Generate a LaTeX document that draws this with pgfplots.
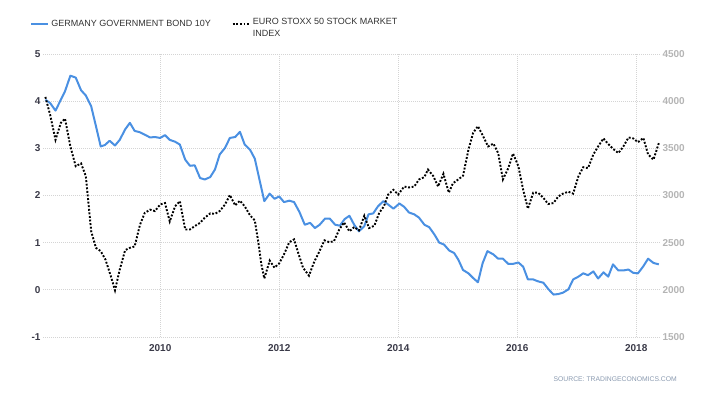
\documentclass[border=0pt]{standalone}
\usepackage{pgfplots}
\pgfplotsset{compat=1.18}
\usepackage{fontspec}
\setmainfont{Liberation Sans}
\definecolor{bondblue}{HTML}{4A90E2}
\definecolor{gridc}{HTML}{D4D4D4}
\definecolor{labc}{HTML}{3A3A48}
\definecolor{rlabc}{HTML}{B4B4B4}
\definecolor{legc}{HTML}{333333}
\definecolor{srcc}{HTML}{8A9AB0}
\begin{document}
\begin{tikzpicture}
\useasboundingbox (0,0) rectangle (720pt,395pt);
\begin{axis}[
  at={(43pt,58pt)}, anchor=south west,
  scale only axis, width=617pt, height=283pt,
  xmin=2008.03, xmax=2018.40, ymin=-1, ymax=5,
  xtick={2010,2012,2014,2016,2018},
  ytick={-1,0,1,2,3,4,5},
  xmajorgrids, ymajorgrids,
  grid style={gridc, line width=0.7pt, dash pattern=on 1pt off 1pt},
  axis line style={draw=none},
  major tick length=0pt,
  /pgf/number format/assume math mode=true,
  /pgf/number format/1000 sep={},
  ticklabel style={font=\bfseries\fontsize{10}{12}\selectfont, text=labc},
  yticklabel style={xshift=1pt},
  xticklabel style={yshift=-4pt},
  legend columns=2,
  legend cell align=left,
  legend style={at={(0,1)}, anchor=south west, xshift=-16pt, yshift=18pt,
    draw=none, fill=none, font=\fontsize{9}{12}\selectfont, text=legc,
    /tikz/every even column/.append style={column sep=19pt}},
]
\addplot[bondblue, line width=2pt, line join=round] coordinates {
(2008.07,4.03)(2008.15,3.96)(2008.24,3.80)(2008.33,4.03)(2008.40,4.21)(2008.49,4.54)(2008.58,4.50)(2008.67,4.23)(2008.75,4.12)(2008.84,3.89)(2008.92,3.47)(2009.00,3.04)(2009.07,3.07)(2009.15,3.16)(2009.24,3.06)(2009.32,3.18)(2009.41,3.40)(2009.49,3.54)(2009.57,3.37)(2009.66,3.34)(2009.74,3.29)(2009.83,3.23)(2009.91,3.24)(2010.00,3.22)(2010.08,3.28)(2010.16,3.18)(2010.25,3.14)(2010.33,3.08)(2010.42,2.76)(2010.50,2.63)(2010.58,2.64)(2010.67,2.37)(2010.75,2.34)(2010.84,2.39)(2010.92,2.55)(2011.00,2.87)(2011.09,3.01)(2011.17,3.22)(2011.26,3.24)(2011.34,3.35)(2011.42,3.08)(2011.51,2.97)(2011.59,2.78)(2011.68,2.27)(2011.75,1.88)(2011.84,2.04)(2011.92,1.93)(2012.00,1.98)(2012.08,1.86)(2012.17,1.89)(2012.25,1.86)(2012.34,1.65)(2012.43,1.38)(2012.52,1.42)(2012.60,1.31)(2012.68,1.38)(2012.77,1.51)(2012.85,1.51)(2012.94,1.38)(2013.02,1.36)(2013.10,1.50)(2013.18,1.57)(2013.26,1.38)(2013.34,1.24)(2013.43,1.35)(2013.50,1.60)(2013.58,1.62)(2013.66,1.77)(2013.75,1.88)(2013.83,1.81)(2013.92,1.72)(2014.02,1.83)(2014.10,1.76)(2014.18,1.64)(2014.27,1.60)(2014.35,1.53)(2014.44,1.38)(2014.52,1.33)(2014.61,1.17)(2014.69,1.00)(2014.77,0.96)(2014.86,0.83)(2014.94,0.78)(2015.01,0.64)(2015.09,0.42)(2015.18,0.35)(2015.26,0.25)(2015.34,0.16)(2015.42,0.57)(2015.50,0.82)(2015.60,0.75)(2015.68,0.66)(2015.76,0.66)(2015.85,0.55)(2015.93,0.55)(2016.02,0.58)(2016.10,0.49)(2016.18,0.22)(2016.27,0.22)(2016.35,0.18)(2016.44,0.15)(2016.52,0.02)(2016.61,-0.10)(2016.69,-0.09)(2016.77,-0.06)(2016.86,0.01)(2016.94,0.22)(2017.03,0.28)(2017.11,0.35)(2017.19,0.31)(2017.28,0.39)(2017.36,0.24)(2017.45,0.37)(2017.53,0.28)(2017.61,0.54)(2017.70,0.41)(2017.78,0.41)(2017.87,0.43)(2017.95,0.36)(2018.03,0.35)(2018.12,0.50)(2018.20,0.66)(2018.29,0.57)(2018.38,0.54)
};
\addlegendentry{GERMANY GOVERNMENT BOND 10Y}
\addlegendimage{black, line width=1.9pt, dash pattern=on 1.9pt off 1.7pt}
\addlegendentry{\begin{tabular}{@{}l@{}}EURO STOXX 50 STOCK MARKET\\INDEX\end{tabular}}
\end{axis}
\begin{axis}[
  at={(43pt,58pt)}, anchor=south west,
  scale only axis, width=617pt, height=283pt,
  xmin=2008.03, xmax=2018.40, ymin=1500, ymax=4500,
  xtick=\empty,
  ytick={1500,2000,2500,3000,3500,4000,4500},
  yticklabel pos=right,
  axis line style={draw=none},
  major tick length=0pt,
  /pgf/number format/assume math mode=true,
  /pgf/number format/1000 sep={},
  yticklabel style={font=\bfseries\fontsize{10}{12}\selectfont, text=rlabc, xshift=-1pt},
]
\addplot[black, line width=1.9pt, dash pattern=on 1.9pt off 1.7pt] coordinates {
(2008.07,4045)(2008.15,3855)(2008.24,3590)(2008.33,3770)(2008.40,3815)(2008.49,3520)(2008.58,3310)(2008.67,3340)(2008.75,3205)(2008.84,2620)(2008.92,2445)(2009.00,2410)(2009.08,2320)(2009.17,2145)(2009.24,1995)(2009.32,2215)(2009.41,2420)(2009.49,2445)(2009.57,2460)(2009.66,2690)(2009.74,2815)(2009.83,2850)(2009.91,2835)(2010.00,2905)(2010.08,2920)(2010.16,2725)(2010.25,2885)(2010.33,2940)(2010.42,2640)(2010.50,2640)(2010.58,2675)(2010.67,2710)(2010.75,2765)(2010.84,2810)(2010.92,2805)(2011.00,2835)(2011.09,2905)(2011.17,3005)(2011.26,2895)(2011.34,2945)(2011.42,2885)(2011.51,2790)(2011.59,2735)(2011.65,2500)(2011.70,2270)(2011.75,2120)(2011.84,2310)(2011.92,2235)(2012.00,2280)(2012.08,2375)(2012.17,2505)(2012.25,2535)(2012.32,2390)(2012.40,2235)(2012.50,2150)(2012.58,2285)(2012.67,2400)(2012.76,2525)(2012.84,2505)(2012.92,2515)(2013.01,2640)(2013.09,2715)(2013.18,2620)(2013.26,2665)(2013.34,2630)(2013.43,2785)(2013.51,2655)(2013.60,2680)(2013.68,2815)(2013.76,2885)(2013.83,3010)(2013.92,3060)(2014.00,3010)(2014.10,3095)(2014.18,3085)(2014.27,3095)(2014.35,3170)(2014.44,3195)(2014.50,3275)(2014.59,3205)(2014.67,3095)(2014.76,3230)(2014.85,3030)(2014.92,3130)(2015.01,3170)(2015.09,3210)(2015.18,3485)(2015.26,3665)(2015.34,3735)(2015.43,3625)(2015.51,3520)(2015.60,3550)(2015.68,3450)(2015.76,3170)(2015.85,3290)(2015.93,3445)(2016.02,3310)(2016.10,3060)(2016.18,2860)(2016.27,3030)(2016.35,3030)(2016.44,2975)(2016.52,2910)(2016.61,2920)(2016.69,2990)(2016.77,3020)(2016.86,3040)(2016.94,3020)(2017.03,3205)(2017.11,3300)(2017.19,3290)(2017.28,3435)(2017.36,3520)(2017.45,3605)(2017.53,3545)(2017.61,3495)(2017.70,3450)(2017.78,3515)(2017.87,3615)(2017.95,3605)(2018.03,3565)(2018.12,3610)(2018.20,3435)(2018.29,3380)(2018.38,3555)
};
\end{axis}
\node[anchor=east, font=\fontsize{6.8}{8}\selectfont, text=srcc, inner sep=0pt] at (677pt,16pt) {SOURCE: TRADINGECONOMICS.COM};
\end{tikzpicture}
\end{document}
